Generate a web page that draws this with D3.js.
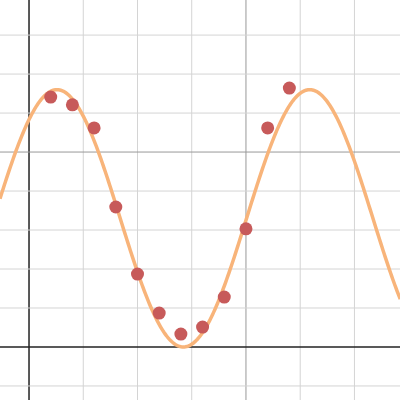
<!DOCTYPE html>
<html><head><meta charset="utf-8">
<script src="https://cdn.jsdelivr.net/npm/d3@7"></script>
<style>body{margin:0;background:#fff}svg{display:block}</style>
</head><body>
<script>
const pointX = [0.4,0.8,1.2,1.6,2.0,2.4,2.8,3.2,3.6,4.0,4.4,4.8];
const pointY = [6.41,6.21,5.62,3.59,1.87,0.87,0.33,0.51,1.28,3.03,5.62,6.64];
// fitted sine model: y = mid + amp*cos(2π(x - peak)/period)
const fitMid = 3.3, fitAmp = 3.3, fitPeak = 0.516, fitPeriod = 4.66;
const xDomain = [-0.535, 6.84], yDomain = [-1.36, 8.9];

const W = 400, H = 400;
const x = d3.scaleLinear().domain(xDomain).range([0, W]);
const y = d3.scaleLinear().domain(yDomain).range([H, 0]);
const svg = d3.select("body").append("svg").attr("width", W).attr("height", H);

const xt = d3.range(Math.ceil(xDomain[0]), Math.floor(xDomain[1]) + 1);
const yt = d3.range(Math.ceil(yDomain[0]), Math.floor(yDomain[1]) + 1);
svg.selectAll(".vx").data(xt).enter().append("line")
  .attr("x1", d => x(d)).attr("x2", d => x(d)).attr("y1", 0).attr("y2", H)
  .attr("stroke", d => d === 0 ? "#222" : (d % 4 === 0 ? "#999" : "#d4d4d4"))
  .attr("stroke-width", d => d === 0 ? 1.5 : 1);
svg.selectAll(".hy").data(yt).enter().append("line")
  .attr("y1", d => y(d)).attr("y2", d => y(d)).attr("x1", 0).attr("x2", W)
  .attr("stroke", d => d === 0 ? "#222" : (d % 5 === 0 ? "#999" : "#d4d4d4"))
  .attr("stroke-width", d => d === 0 ? 1.5 : 1);

const xs = d3.range(xDomain[0], xDomain[1] + 0.02, 0.02);
const f = v => fitMid + fitAmp * Math.cos(2 * Math.PI * (v - fitPeak) / fitPeriod);
svg.append("path").datum(xs)
  .attr("d", d3.line().x(d => x(d)).y(d => y(f(d))))
  .attr("fill", "none").attr("stroke", "#f8b47a").attr("stroke-width", 3.5);

svg.selectAll(".pt").data(pointX).enter().append("circle")
  .attr("cx", d => x(d)).attr("cy", (d, i) => y(pointY[i])).attr("r", 6.5)
  .attr("fill", "#c75a5a");
</script>
</body></html>
